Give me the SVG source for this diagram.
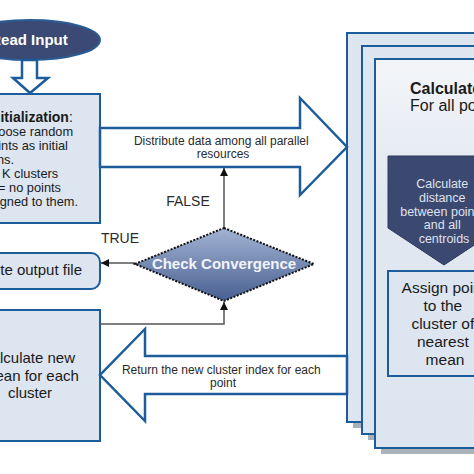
<svg xmlns="http://www.w3.org/2000/svg" width="474" height="474" viewBox="0 0 474 474">
<style>
text{font-family:"Liberation Sans",Arial,sans-serif;fill:#1a1a1a}
.box{fill:#dce5f0;stroke:#1d5c9a;stroke-width:2}
.bigarrow{fill:#fff;stroke:#1d5c9a;stroke-width:2.5;stroke-linejoin:miter}
.shadow{fill:#a9b1ba}
.conn{stroke:#555;stroke-width:1.5;fill:none}
.t15{font-size:15px}
.t12{font-size:12px;fill:#2a2a2a}
.init{font-size:12.8px}
.lbl{font-size:14px;fill:#2a2a2a}
</style>
<defs>
<marker id="ah" viewBox="0 0 10 10" refX="10" refY="5" markerWidth="8" markerHeight="8" markerUnits="userSpaceOnUse" orient="auto">
<path d="M0,0 L10,5 L0,10 z" fill="#111"/>
</marker>
<linearGradient id="dg" x1="0" y1="0" x2="0" y2="1">
<stop offset="0" stop-color="#a3b4d2"/>
<stop offset="1" stop-color="#475f92"/>
</linearGradient>
<linearGradient id="ig" x1="0" y1="0" x2="0" y2="1">
<stop offset="0" stop-color="#f3f5f8"/>
<stop offset="0.35" stop-color="#e2e8f1"/>
<stop offset="1" stop-color="#dce5f0"/>
</linearGradient>
</defs>
<rect x="0" y="0" width="474" height="474" fill="#fff"/>

<g id="parallel-stack">
<rect class="shadow" x="353" y="39" width="140" height="389"/>
<rect class="box" x="347" y="33" width="140" height="389"/>
<rect class="shadow" x="368" y="52" width="130" height="388"/>
<rect class="box" x="362" y="46" width="130" height="388"/>
<rect class="shadow" x="381" y="65" width="120" height="389"/>
<rect x="375" y="59" width="120" height="389" fill="url(#ig)" stroke="#1d5c9a" stroke-width="2"/>
<text x="410" y="94" font-size="16" font-weight="bold">Calculate</text>
<text x="410" y="111" font-size="16">For all points</text>
</g>

<g id="calc-distance">
<polygon points="388,156 500,156 500,228 444,265 388,228" fill="#3b4870" stroke="#2d3a5e" stroke-width="1"/>
<text font-size="12.5" text-anchor="middle" style="fill:#dfe3ee">
<tspan x="444" y="188">Calculate</tspan>
<tspan x="444" y="201.75">distance</tspan>
<tspan x="444" y="215.5">between points</tspan>
<tspan x="444" y="229.25">and all</tspan>
<tspan x="444" y="243">centroids</tspan>
</text>
</g>

<g id="assign">
<rect class="box" x="388" y="271" width="112" height="105"/>
<text font-size="15.5" text-anchor="middle">
<tspan x="446" y="293">Assign point</tspan>
<tspan x="445" y="311">to the</tspan>
<tspan x="445" y="329">cluster of</tspan>
<tspan x="445" y="347">nearest</tspan>
<tspan x="445" y="365">mean</tspan>
</text>
</g>

<g id="read-input">
<ellipse cx="30" cy="40" rx="70" ry="20" fill="#3b4a75" stroke="#2a5c96" stroke-width="2"/>
<text class="t15" x="29" y="45" text-anchor="middle" font-weight="bold" style="fill:#fff">Read Input</text>
</g>

<g id="down-arrow">
<polygon class="bigarrow" points="22,60 37,60 37,78 48,78 30,93 13,78 22,78"/>
</g>

<g id="initialization">
<rect class="box" x="-20" y="94" width="120" height="129"/>
<text class="init">
<tspan x="-12" y="122" font-size="14"><tspan font-weight="bold">Initialization</tspan>:</tspan>
<tspan x="-18" y="136">Choose random</tspan>
<tspan x="-16" y="150">points as initial</tspan>
<tspan x="-28" y="164">means.</tspan>
<tspan x="2" y="178">K clusters</tspan>
<tspan x="-2" y="192">= no points</tspan>
<tspan x="-23" y="206">assigned to them.</tspan>
</text>
</g>

<g id="write-output">
<rect class="box" x="-20" y="253" width="120" height="36" rx="9"/>
<text class="t15" x="30" y="275" text-anchor="middle">Write output file</text>
</g>

<g id="calc-mean">
<rect class="box" x="-20" y="310" width="120" height="131"/>
<text class="t15" text-anchor="middle">
<tspan x="30" y="363">Calculate new</tspan>
<tspan x="33" y="380.5">mean for each</tspan>
<tspan x="30" y="398">cluster</tspan>
</text>
</g>

<g id="distribute">
<polygon class="bigarrow" points="100,128 300,128 300,98 347,147 300,195 300,167 100,167"/>
<text class="t12" text-anchor="middle">
<tspan x="223" y="145">Distribute data among all parallel</tspan>
<tspan x="223" y="158">resources</tspan>
</text>
</g>

<g id="return">
<polygon class="bigarrow" points="347,356 145,356 145,329 100,375 145,421 145,394 347,394"/>
<text class="t12" text-anchor="middle">
<tspan x="223" y="374">Return the new cluster index for each</tspan>
<tspan x="223" y="387">point</tspan>
</text>
</g>

<g id="connectors">
<line class="conn" x1="224" y1="228" x2="224" y2="168" marker-end="url(#ah)"/>
<line class="conn" x1="135" y1="263" x2="101" y2="263" marker-end="url(#ah)"/>
<polyline class="conn" points="100,324 224,324 224,302" marker-end="url(#ah)"/>
<text class="lbl" x="188" y="206" text-anchor="middle">FALSE</text>
<text class="lbl" x="120" y="243" text-anchor="middle">TRUE</text>
</g>

<g id="check-convergence">
<polygon points="224,228 314,264 224,301 135,264" fill="url(#dg)" stroke="#111" stroke-width="2" stroke-dasharray="2 1.5"/>
<text class="t15" x="224" y="269" text-anchor="middle" font-weight="bold" style="fill:#f2f4fa">Check Convergence</text>
</g>
</svg>
